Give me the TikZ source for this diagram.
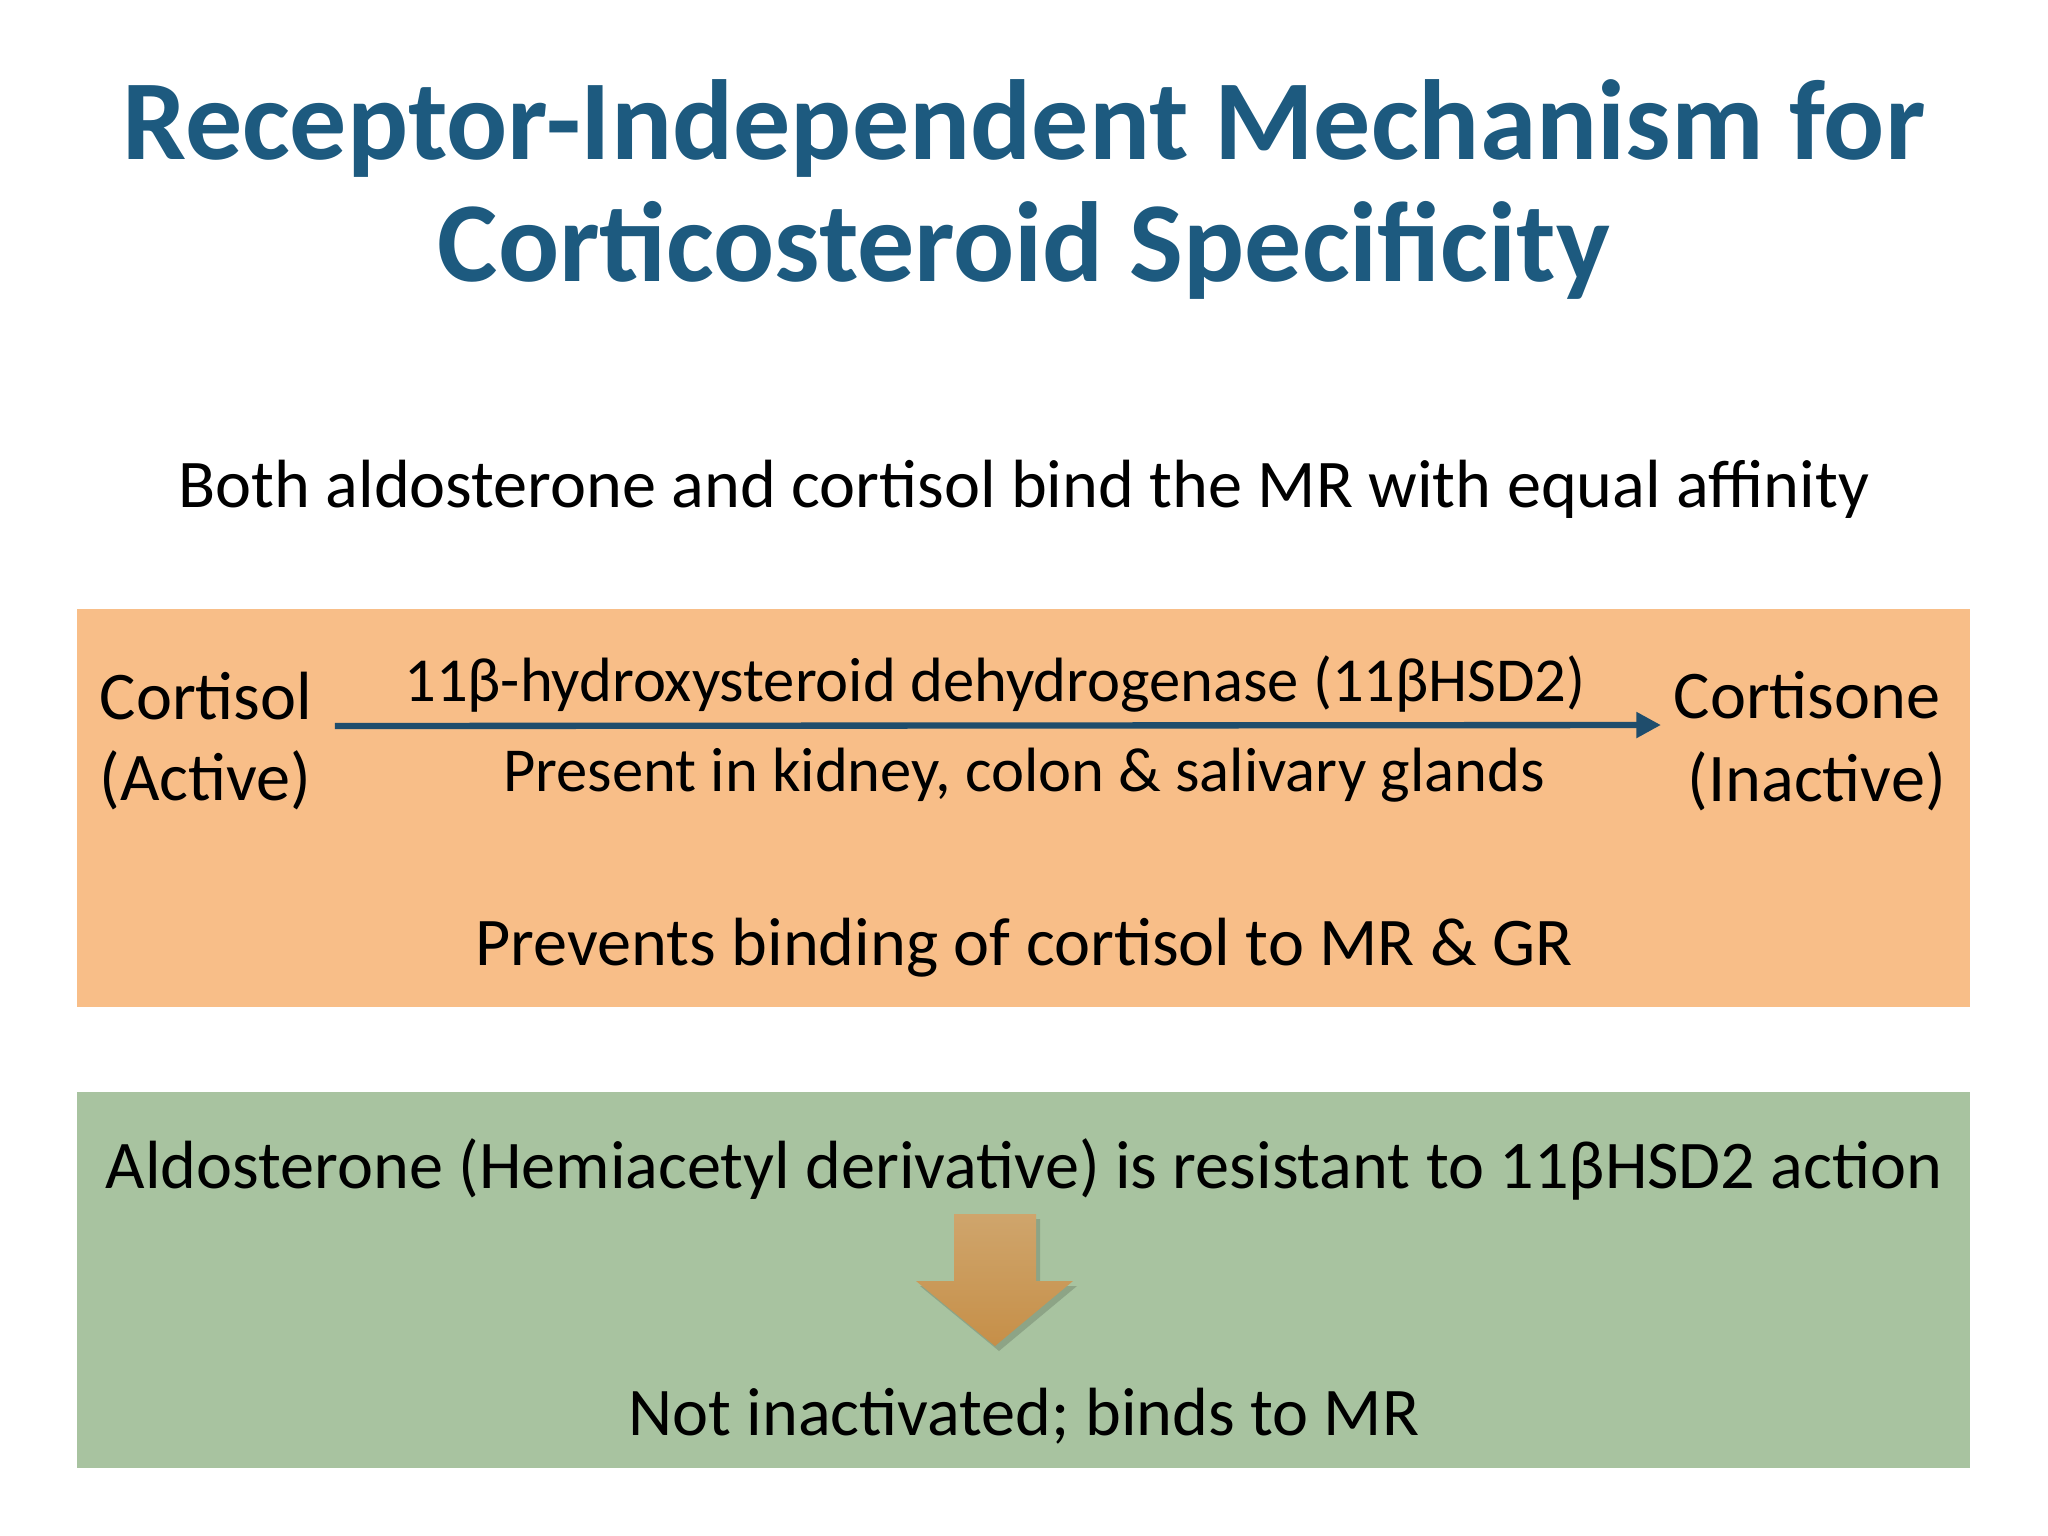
\documentclass[tikz,border=0pt]{standalone}
\usepackage{fontspec}
\setmainfont{Carlito}
\usetikzlibrary{positioning,arrows.meta}
\definecolor{titleblue}{HTML}{1D5A7F}
\definecolor{boxorange}{HTML}{F8BE88}
\definecolor{boxgreen}{HTML}{A8C3A0}
\definecolor{arrowblue}{HTML}{1F4D6C}
\definecolor{goldtop}{HTML}{CFA56C}
\definecolor{goldbottom}{HTML}{C68F48}

\begin{document}
\begin{tikzpicture}[x=0.01cm,y=-0.01cm,
    heading/.style={font=\bfseries\fontsize{32.4}{36}\selectfont, text=titleblue, inner sep=0pt, anchor=base},
    big/.style={font=\fontsize{19.4}{23}\selectfont, inner sep=0pt, anchor=base},
    small/.style={font=\fontsize{17.8}{20}\selectfont, inner sep=0pt, anchor=base},
    convert/.style={draw=arrowblue, line width=1.8pt, -{Triangle[length=7pt,width=7pt]}}]
    \useasboundingbox (0,0) rectangle (2048,1536);
    \fill[boxorange] (77,609) rectangle (1970,1007);
    \fill[boxgreen] (77,1092) rectangle (1970,1468);

    \node(title1) [heading] at (1024,159) {Receptor-Independent Mechanism for};
    \node(title2) [heading] at (1024,281) {Corticosteroid Specificity};
    \node(both) [big] at (1024,507) {Both aldosterone and cortisol bind the MR with equal affinity};

    % orange box
    \node(cortisol) [big, anchor=base west] at (99,719) {Cortisol};
    \node(active) [big, below=0.81cm of cortisol.base west, anchor=base west] {(Active)};
    \node(cortisone) [big, anchor=base west] at (1673,718) {Cortisone};
    \node(inactive) [big, below=0.83cm of cortisone.base west, anchor=base west, xshift=0.14cm] {(Inactive)};
    \node(enzyme) [small] at (995,701) {11β-hydroxysteroid dehydrogenase (11βHSD2)};
    \node(tissues) [small] at (1024,791) {Present in kidney, colon \& salivary glands};
    \node(prevents) [big] at (1024,965) {Prevents binding of cortisol to MR \& GR};
    \draw[convert] ([shift={(0.22cm,-0.07cm)}]cortisol.base east) -- ([shift={(-0.12cm,-0.07cm)}]cortisone.base west);

    % green box
    \node(aldo) [big] at (1024,1188) {Aldosterone (Hemiacetyl derivative) is resistant to 11βHSD2 action};
    \node(binds) [big] at (1024,1435) {Not inactivated; binds to MR};
    \fill[black!45!boxgreen, opacity=0.35] (958,1219) -- (1040,1219) -- (1040,1286) -- (1077,1286) -- (999,1351) -- (920,1286) -- (958,1286) -- cycle;
    \shade[top color=goldtop, bottom color=goldbottom] (954,1214) -- (1036,1214) -- (1036,1281) -- (1073,1281) -- (995,1346) -- (916,1281) -- (954,1281) -- cycle;
\end{tikzpicture}
\end{document}
